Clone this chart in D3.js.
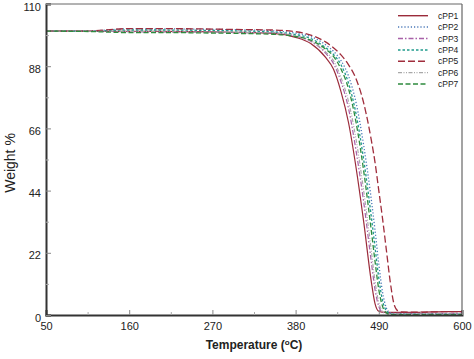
<!DOCTYPE html>
<html><head><meta charset="utf-8">
<script src="https://cdn.jsdelivr.net/npm/d3@7/dist/d3.min.js"></script>
<style>body{margin:0;background:#fff;} svg{display:block;font-family:"Liberation Sans",Arial,sans-serif;}</style>
</head><body>
<svg id="chart" width="474" height="359"></svg>
<script>
const temps = [50, 100, 160, 200, 250, 300, 350, 380, 400, 420, 430, 440, 450, 460, 470, 480, 485, 490, 495, 500, 505, 510, 515, 520, 540, 560, 580, 600];
const cPP1 = [100.4,100.4,100.3,100.3,100.2,100.0,99.6,98.2,96.0,91.0,87.0,79.0,68.0,52.0,33.0,12.0,4.0,1.3,1.0,0.9,0.9,0.9,0.9,0.9,0.9,1.1,1.2,1.2];
const cPP2 = [100.4,100.4,101.2,101.2,101.1,100.9,100.5,99.7,98.5,95.5,93.3,90.0,84.5,75.0,60.0,41.0,30.0,18.0,8.0,2.5,0.8,0.5,0.4,0.4,0.4,0.4,0.4,0.4];
const cPP3 = [100.4,100.4,100.2,100.1,100.1,99.9,99.8,98.6,96.8,92.5,89.0,82.5,73.0,58.0,40.0,19.0,9.0,3.0,1.0,0.7,0.6,0.6,0.6,0.6,0.6,0.6,0.6,0.6];
const cPP4 = [100.4,100.4,100.8,100.8,100.7,100.5,100.1,99.2,97.8,94.5,92.2,88.5,82.0,71.0,55.0,35.0,24.0,13.0,5.0,1.5,0.5,0.3,0.3,0.3,0.3,0.3,0.3,0.3];
const cPP5 = [100.4,100.4,101.3,101.3,101.2,101.0,100.8,100.2,99.0,96.5,94.5,92.0,88.5,83.5,75.0,62.0,54.0,44.0,34.0,23.0,12.0,4.0,1.5,1.1,1.0,1.1,1.2,1.2];
const cPP6 = [100.4,100.4,100.3,100.2,100.1,99.9,99.8,98.7,97.0,93.0,90.0,84.0,75.5,62.0,44.0,23.0,12.0,4.5,1.2,0.5,0.4,0.4,0.4,0.4,0.4,0.4,0.4,0.4];
const cPP7 = [100.4,100.3,99.9,99.9,99.8,99.6,99.3,98.5,97.2,94.0,91.5,87.0,80.0,68.0,51.0,30.0,19.0,9.0,3.0,0.8,0.2,0.1,0.1,0.1,0.1,0.1,0.1,0.1];
const seriesNames = ["cPP1","cPP2","cPP3","cPP4","cPP5","cPP6","cPP7"];
const seriesValues = [cPP1,cPP2,cPP3,cPP4,cPP5,cPP6,cPP7];
const xTicks = [50,160,270,380,490,600];
const yTicks = [0,22,44,66,88,110];
const xMinor = [105,215,325,435,545];
const yMinor = [11,33,55,77,99];

const styles = [
  {color:"#9b2b3a", dash:null, w:1.2},
  {color:"#4a78b8", dash:"1.2,2", w:1.3},
  {color:"#a860a8", dash:"5,2,1.5,2", w:1.2},
  {color:"#1f9a8c", dash:"2.5,2", w:1.3},
  {color:"#a02d3c", dash:"7,3", w:1.3},
  {color:"#a8a8a8", dash:"4,1.5,1,1.5,1,1.5", w:1.1},
  {color:"#2e8b3e", dash:"5,2.5", w:1.3}
];

const svg = d3.select("#chart");
const L=46, R=462, T=4, B=315;
const x = d3.scaleLinear().domain([50,600]).range([L,R]);
const y = d3.scaleLinear().domain([0,110]).range([B,T]);

svg.append("line").attr("x1",L).attr("x2",R).attr("y1",T).attr("y2",T).attr("stroke","#666").attr("stroke-width",1);
svg.append("line").attr("x1",R).attr("x2",R).attr("y1",T).attr("y2",B).attr("stroke","#666").attr("stroke-width",1.2);

svg.append("defs").append("clipPath").attr("id","clip").append("rect")
  .attr("x",L).attr("y",T).attr("width",R-L).attr("height",B-T);

const line = d3.line().x((d,i)=>x(temps[i])).y(d=>y(d)).curve(d3.curveMonotoneX);
const g = svg.append("g").attr("clip-path","url(#clip)");
seriesValues.forEach((vals,k)=>{
  g.append("path").attr("d",line(vals)).attr("fill","none")
   .attr("stroke",styles[k].color).attr("stroke-width",styles[k].w)
   .attr("stroke-dasharray",styles[k].dash);
});

const xAxis = d3.axisBottom(x).tickValues(xTicks).tickSize(-5).tickPadding(7).tickFormat(d3.format("d"));
const gx = svg.append("g").attr("transform",`translate(0,${B})`).call(xAxis);
gx.select(".domain").attr("stroke","#333").attr("stroke-width",2);
gx.selectAll(".tick line").attr("stroke","#888");
gx.selectAll("text").attr("font-size",11).attr("fill","#222");
svg.append("g").attr("transform",`translate(0,${B})`).call(d3.axisBottom(x).tickValues(xMinor).tickSize(-3).tickFormat(""))
  .call(s=>{s.select(".domain").remove(); s.selectAll("line").attr("stroke","#aaa");});

const yAxis = d3.axisLeft(y).tickValues(yTicks).tickSize(-5).tickPadding(5);
const gy = svg.append("g").attr("transform",`translate(${L},0)`).call(yAxis);
gy.select(".domain").attr("stroke","#333").attr("stroke-width",2);
gy.selectAll(".tick line").attr("stroke","#888");
gy.selectAll("text").attr("font-size",11).attr("fill","#222").attr("dy","0.55em");
svg.append("g").attr("transform",`translate(${L},0)`).call(d3.axisLeft(y).tickValues(yMinor).tickSize(-3).tickFormat(""))
  .call(s=>{s.select(".domain").remove(); s.selectAll("line").attr("stroke","#aaa");});

svg.append("text").attr("transform","translate(15,163) rotate(-90)").attr("text-anchor","middle")
  .attr("font-size",14).attr("fill","#222").text("Weight %");
const xt = svg.append("text").attr("x",(L+R)/2).attr("y",349).attr("text-anchor","middle")
  .attr("font-size",12).attr("font-weight","bold").attr("fill","#222");
xt.append("tspan").text("Temperature (");
xt.append("tspan").attr("dy",-4).attr("font-size",8).text("o");
xt.append("tspan").attr("dy",4).text("C)");

const lg = svg.append("g");
seriesNames.forEach((n,k)=>{
  const yy = 15.7 + k*11.4;
  lg.append("line").attr("x1",398).attr("x2",428).attr("y1",yy).attr("y2",yy)
    .attr("stroke",styles[k].color).attr("stroke-width",styles[k].w+0.2).attr("stroke-dasharray",styles[k].dash);
  lg.append("text").attr("x",438).attr("y",yy+3).attr("font-size",8.5).attr("fill","#222").text(n);
});
</script>
</body></html>
